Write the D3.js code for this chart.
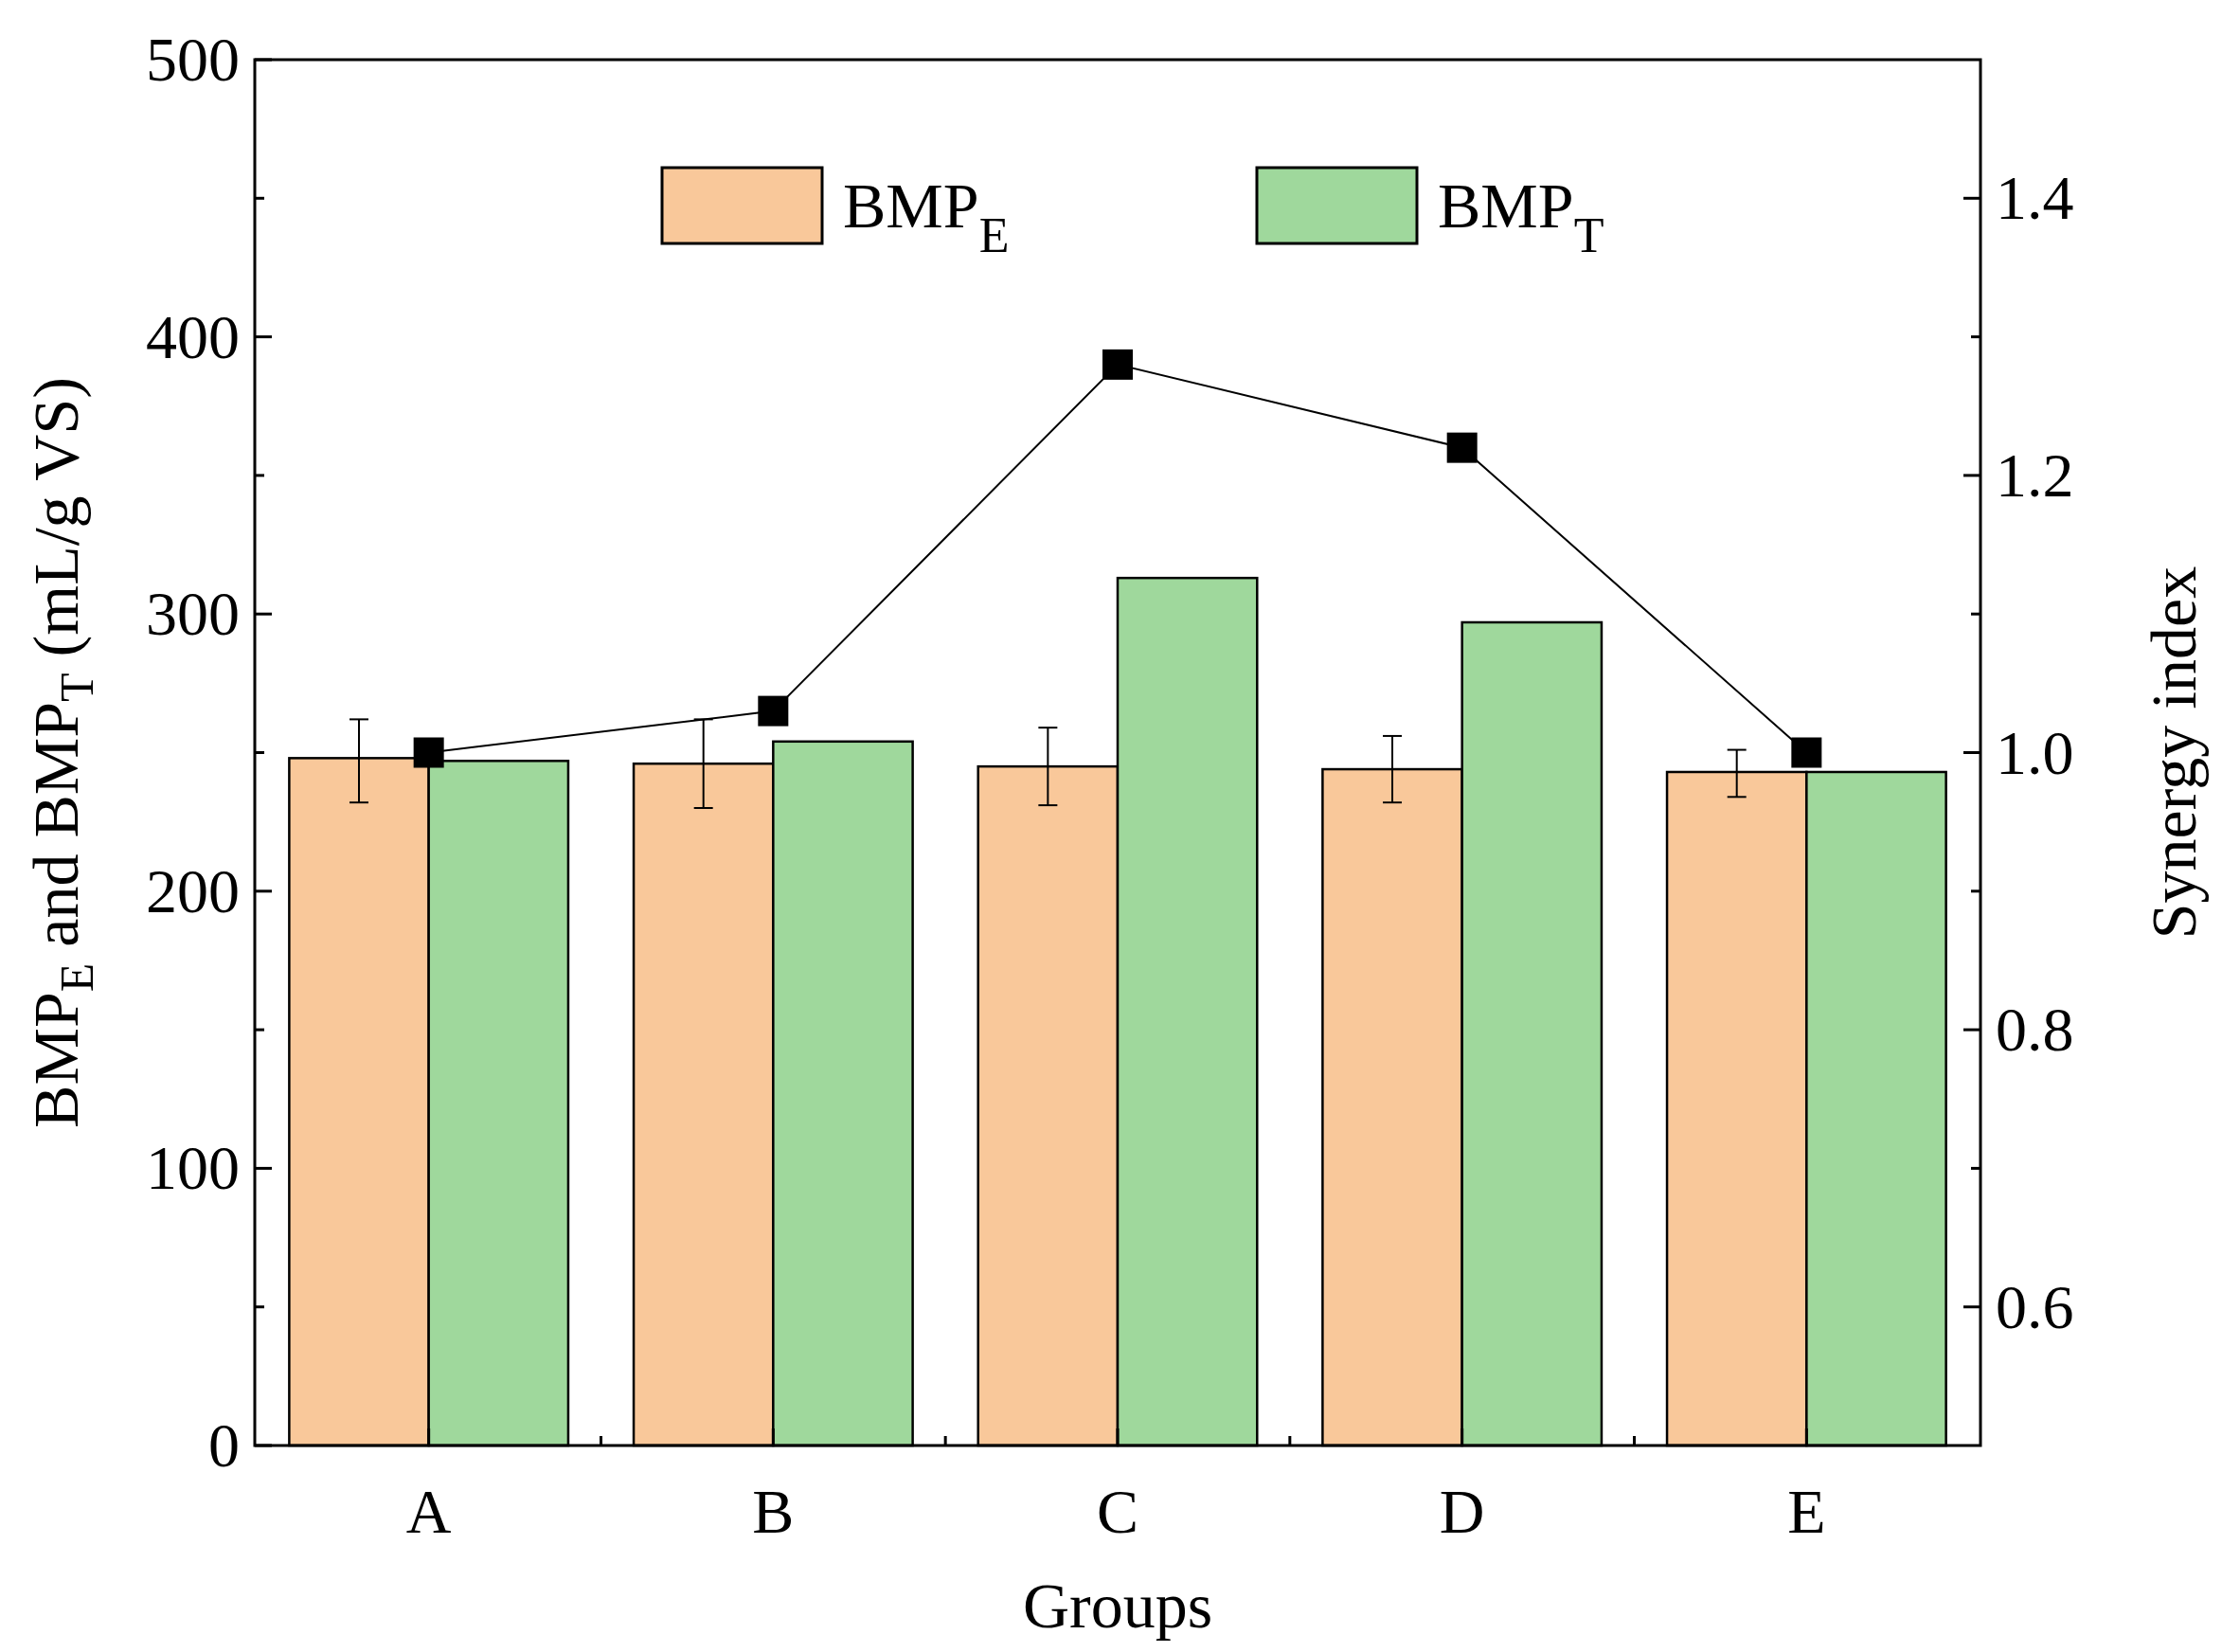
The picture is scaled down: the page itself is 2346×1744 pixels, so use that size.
<!DOCTYPE html>
<html><head><meta charset="utf-8">
<script src="https://cdn.jsdelivr.net/npm/d3@7"></script>
<style>body{margin:0;background:#fff}text{font-family:"Liberation Serif","Times New Roman",serif}</style>
</head><body>
<svg id="chart" width="2346" height="1744"></svg>
<script>
// data
var groups = ["A", "B", "C", "D", "E"]
var bmpE = [248, 246, 245, 244, 243]
var bmpEerrLow = [232, 230, 231, 232, 234]
var bmpEerrHigh = [262, 262, 259, 256, 251]
var bmpT = [247, 254, 313, 297, 243]
var synergy = [1.0, 1.03, 1.28, 1.22, 1.0]
var leftTicks = [0, 100, 200, 300, 400, 500]
var rightTicks = [0.6, 0.8, 1.0, 1.2, 1.4]

var orange = "#F9C89A", green = "#9FD89C"
var svg = d3.select("#chart")
var L = 269, R = 2091, T = 63, B = 1526

var x = d3.scaleBand().domain(groups).range([L, R]).paddingInner(0.19).paddingOuter(0.1)
var y = d3.scaleLinear().domain([0, 500]).range([B, T])
var y2 = d3.scaleLinear().domain([0.5, 1.5]).range([B, T])
var bw = x.bandwidth() / 2

// bars
var g = svg.append("g")
groups.forEach(function(c, i){
  g.append("rect").attr("x", x(c)).attr("y", y(bmpE[i])).attr("width", bw).attr("height", B - y(bmpE[i]))
    .attr("fill", orange).attr("stroke", "#000").attr("stroke-width", 2.5)
  g.append("rect").attr("x", x(c) + bw).attr("y", y(bmpT[i])).attr("width", bw).attr("height", B - y(bmpT[i]))
    .attr("fill", green).attr("stroke", "#000").attr("stroke-width", 2.5)
  // error bar
  var cx = x(c) + bw / 2
  g.append("line").attr("x1", cx).attr("x2", cx).attr("y1", y(bmpEerrLow[i])).attr("y2", y(bmpEerrHigh[i])).attr("stroke", "#000").attr("stroke-width", 2)
  ;[bmpEerrLow[i], bmpEerrHigh[i]].forEach(function(v){
    g.append("line").attr("x1", cx - 10).attr("x2", cx + 10).attr("y1", y(v)).attr("y2", y(v)).attr("stroke", "#000").attr("stroke-width", 2)
  })
})

// synergy line
var px = function(d, i){ return x(groups[i]) + bw }
svg.append("path").datum(synergy)
  .attr("d", d3.line().x(px).y(function(d){ return y2(d) }))
  .attr("fill", "none").attr("stroke", "#000").attr("stroke-width", 2)
svg.selectAll(".mk").data(synergy).enter().append("rect")
  .attr("x", function(d, i){ return px(d, i) - 16 }).attr("y", function(d){ return y2(d) - 16 })
  .attr("width", 32).attr("height", 32).attr("fill", "#000")

// frame
svg.append("rect").attr("x", L).attr("y", T).attr("width", R - L).attr("height", B - T)
  .attr("fill", "none").attr("stroke", "#000").attr("stroke-width", 3)

// ticks
var tk = svg.append("g").attr("stroke", "#000").attr("stroke-width", 3)
d3.range(0, 501, 50).forEach(function(v){
  var len = v % 100 == 0 ? 18 : 10
  tk.append("line").attr("x1", L).attr("x2", L + len).attr("y1", y(v)).attr("y2", y(v))
})
d3.range(0.6, 1.45, 0.1).forEach(function(v){
  var len = Math.round(v * 10) % 2 == 0 ? 18 : 10
  tk.append("line").attr("x1", R).attr("x2", R - len).attr("y1", y2(v)).attr("y2", y2(v))
})
groups.forEach(function(c){
  tk.append("line").attr("x1", x(c) + bw).attr("x2", x(c) + bw).attr("y1", B).attr("y2", B - 18)
})
groups.slice(1).forEach(function(c){
  var bx = x(c) - x.step() * x.paddingInner() / 2
  tk.append("line").attr("x1", bx).attr("x2", bx).attr("y1", B).attr("y2", B - 10)
})

var fs = 66
svg.selectAll(".lt").data(leftTicks).enter().append("text")
  .attr("x", L - 16).attr("y", function(d){ return y(d) + 22 }).attr("text-anchor", "end")
  .attr("font-size", fs).text(function(d){ return d })
svg.selectAll(".rt").data(rightTicks).enter().append("text")
  .attr("x", R + 16).attr("y", function(d){ return y2(d) + 22 })
  .attr("font-size", fs).text(function(d){ return d.toFixed(1) })
svg.selectAll(".xt").data(groups).enter().append("text")
  .attr("x", function(d){ return x(d) + bw }).attr("y", B + 92).attr("text-anchor", "middle")
  .attr("font-size", fs).text(function(d){ return d })

svg.append("text").attr("x", (L + R) / 2).attr("y", 1718).attr("text-anchor", "middle").attr("font-size", 68).text("Groups")
svg.append("text").attr("transform", "translate(2318," + (T + B) / 2 + ") rotate(-90)")
  .attr("text-anchor", "middle").attr("font-size", 68).text("Synergy index")
var yl = svg.append("text").attr("transform", "translate(82," + (T + B) / 2 + ") rotate(-90)")
  .attr("text-anchor", "middle").attr("font-size", 68)
yl.append("tspan").text("BMP")
yl.append("tspan").attr("font-size", 50).attr("dy", 16).text("E")
yl.append("tspan").attr("dy", -16).text(" and BMP")
yl.append("tspan").attr("font-size", 50).attr("dy", 16).text("T")
yl.append("tspan").attr("dy", -16).text(" (mL/g VS)")

// legend
var legend = [["E", orange, 699], ["T", green, 1327]]
legend.forEach(function(l){
  svg.append("rect").attr("x", l[2]).attr("y", 177).attr("width", 169).attr("height", 80)
    .attr("fill", l[1]).attr("stroke", "#000").attr("stroke-width", 3)
  var t = svg.append("text").attr("x", l[2] + 191).attr("y", 240).attr("font-size", 68)
  t.append("tspan").text("BMP")
  t.append("tspan").attr("font-size", 52).attr("dy", 26).text(l[0])
})
</script>
</body></html>
